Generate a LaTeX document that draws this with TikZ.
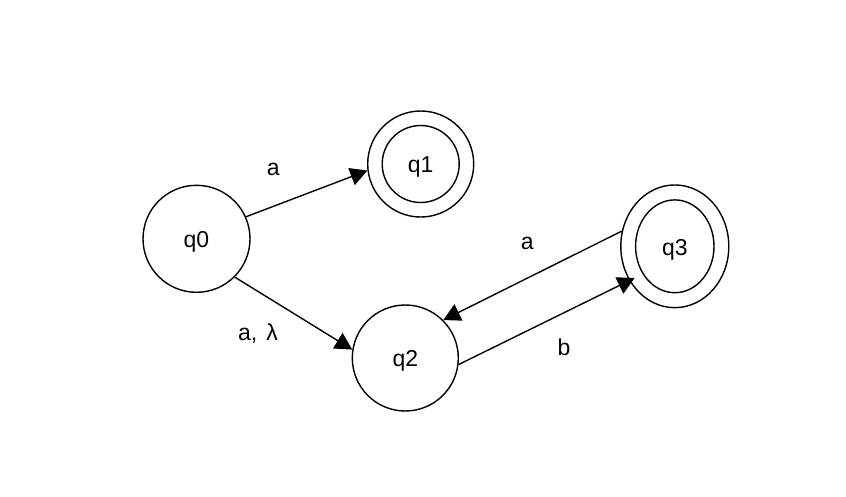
\documentclass[tikz,border=0pt]{standalone}
\usepackage{fontspec}
\setmainfont{Liberation Sans}
\usetikzlibrary{arrows.meta,shapes.geometric}
\begin{document}
\begin{tikzpicture}[x=1pt,y=-1pt,
  every node/.style={font=\fontsize{23}{27}\selectfont},
  statenode/.style={draw=black,line width=1.4pt,fill=white,circle,minimum size=106pt,inner sep=0pt,text height=17.6pt,text depth=0pt},
  ellnode/.style={draw=black,line width=1.4pt,fill=white,ellipse,minimum width=108pt,minimum height=122.7pt,inner sep=0pt,text height=17.6pt,text depth=0pt},
  innercircle/.style={path picture={\draw[line width=1.4pt] (path picture bounding box.center) circle[radius=#1];}},
  innerellipse/.style={path picture={\draw[line width=1.4pt] (path picture bounding box.center) ellipse[x radius=39.2pt,y radius=46.4pt];}},
  edgelabel/.style={anchor=base,inner sep=0pt},
  arr/.style={draw=black,line width=1.4pt,-{Triangle[length=17pt,width=18pt]}}]
\fill[white] (0,0) rectangle (846,496);
\useasboundingbox (0,0) rectangle (846,496);
\node[statenode,minimum size=107pt] (q0) at (196.5,238.8) {q0};
\node[statenode,innercircle=38.5pt] (q1) at (420.7,164) {q1};
\node[statenode] (q2) at (405.3,358) {q2};
\node[ellnode,innerellipse] (q3) at (674.8,246.3) {q3};
\draw[arr] (q0.24) -- (q1.187);
\draw[arr] (q0.315) -- (q2.171);
\draw[arr] (q3.164) -- (q2.45);
\draw[arr,shorten >=-6pt] (q2.353) -- (q3.217);
\node[edgelabel] (l1) at (273.3,175) {a};
\node[edgelabel] (l2) at (258,340) {a,\hspace{0.12em} λ};
\node[edgelabel] (l3) at (527.3,249.3) {a};
\node[edgelabel] (l4) at (564,355.7) {b};
\end{tikzpicture}
\end{document}
